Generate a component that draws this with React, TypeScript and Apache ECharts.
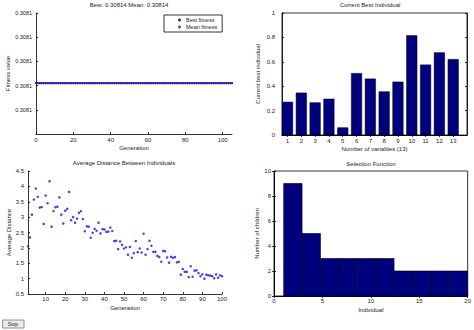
import React, { useEffect, useRef } from "react";
import * as echarts from "echarts";

// ---------- data ----------
// Top-left: best / mean fitness per generation (constant at 0.30814)
const FITNESS_GENERATIONS = Array.from({ length: 106 }, (_, i) => i);
const BEST_FITNESS_VALUE = 0.308141;
const MEAN_FITNESS_VALUE = 0.308141;
const FITNESS_X_TICKS = [0, 20, 40, 60, 80, 100];
const FITNESS_Y_TICKS = [0.30813, 0.30814, 0.30815, 0.30816, 0.30817];

// Top-right: current best individual
const VARIABLES = [1, 2, 3, 4, 5, 6, 7, 8, 9, 10, 11, 12, 13];
const BEST_INDIVIDUAL = [0.27, 0.345, 0.265, 0.295, 0.06, 0.505, 0.46, 0.355, 0.435, 0.815, 0.575, 0.675, 0.62];

// Bottom-left: average distance between individuals (generations 1..100)
const AVG_DISTANCE = [
  2.05, 2.34, 3.08, 3.57, 3.93, 3.66, 3.31, 3.33, 2.78, 3.70,
  3.45, 4.17, 2.69, 3.20, 3.32, 3.34, 3.64, 3.08, 2.79, 3.21,
  3.27, 3.82, 2.90, 3.00, 2.82, 2.95, 3.14, 3.19, 2.94, 2.54,
  2.70, 2.69, 2.33, 2.49, 2.62, 2.56, 2.82, 2.47, 2.61, 2.60,
  2.52, 2.53, 2.66, 2.55, 2.22, 2.23, 1.96, 2.21, 2.10, 1.98,
  2.02, 1.78, 2.03, 1.68, 1.83, 2.22, 1.86, 1.98, 1.85, 2.46,
  1.78, 1.96, 2.23, 2.07, 1.87, 1.87, 1.74, 1.70, 1.55, 1.90,
  1.89, 1.69, 1.52, 1.71, 1.68, 1.70, 1.53, 1.55, 1.13, 1.31,
  1.22, 1.22, 1.05, 1.40, 1.06, 1.26, 1.27, 1.18, 1.08, 1.14,
  1.00, 1.13, 1.11, 1.10, 1.08, 1.01, 1.14, 1.03, 1.11, 1.08,
];
const DISTANCE_X_TICKS = [10, 20, 30, 40, 50, 60, 70, 80, 90, 100];

// Bottom-right: selection function histogram
const HIST_EDGES = [1, 2.9, 4.8, 6.7, 8.6, 10.5, 12.4, 14.3, 16.2, 18.1, 20];
const CHILDREN = [9, 5, 3, 3, 3, 3, 2, 2, 2, 2];

// ---------- styles ----------
const FONT = "Liberation Sans, Arial, sans-serif";
const TEXT = "#222";
const NAVY = "#00007f";
const BLUE = "#1515e6";
const TICK_FS = 6;

const axisLineStyle = { show: true, lineStyle: { color: "#000", width: 0.8 } };
const tickStyle = (vals?: number[]) => ({
  show: true,
  inside: true,
  length: 2,
  lineStyle: { color: "#000", width: 0.8 },
  ...(vals ? { customValues: vals } : {}),
});
const labelStyle = (margin: number, extra: any = {}) => ({
  show: true,
  fontSize: TICK_FS,
  fontFamily: FONT,
  color: TEXT,
  margin,
  ...extra,
});
const nameStyle = { fontSize: 6, fontFamily: FONT, color: TEXT };

export default function App() {
  const ref = useRef<HTMLDivElement>(null);

  useEffect(() => {
    if (!ref.current) return;
    const chart = echarts.init(ref.current, undefined, { renderer: "svg" });

    const barHalf = 0.38;

    const option: any = {
      animation: false,
      backgroundColor: "#fff",
      textStyle: { fontFamily: FONT },
      grid: [
        { left: 36, top: 13, width: 196, height: 121 },
        { left: 282, top: 13, width: 185, height: 122, show: true, borderColor: "#000", borderWidth: 0.8 },
        { left: 28, top: 171, width: 194, height: 123 },
        { left: 274, top: 171, width: 195, height: 125, show: true, borderColor: "#000", borderWidth: 0.8 },
      ],
      xAxis: [
        {
          gridIndex: 0, type: "value", min: 0, max: 105, position: "bottom",
          axisLine: axisLineStyle, axisTick: tickStyle(FITNESS_X_TICKS),
          axisLabel: labelStyle(3, { customValues: FITNESS_X_TICKS }),
          splitLine: { show: false },
          name: "Generation", nameLocation: "middle", nameGap: 11, nameTextStyle: nameStyle,
        },
        {
          gridIndex: 1, type: "value", min: 0.6, max: 14, position: "bottom",
          axisLine: axisLineStyle, axisTick: tickStyle(VARIABLES),
          axisLabel: labelStyle(3, { customValues: VARIABLES }),
          splitLine: { show: false },
          name: "Number of variables (13)", nameLocation: "middle", nameGap: 11, nameTextStyle: nameStyle,
        },
        {
          gridIndex: 1, type: "value", min: 0.6, max: 14, position: "top",
          axisLine: axisLineStyle, axisTick: tickStyle(VARIABLES),
          axisLabel: { show: false }, splitLine: { show: false },
        },
        {
          gridIndex: 2, type: "value", min: 1, max: 100, position: "bottom",
          axisLine: axisLineStyle, axisTick: tickStyle(DISTANCE_X_TICKS),
          axisLabel: labelStyle(2, { customValues: DISTANCE_X_TICKS }),
          splitLine: { show: false },
          name: "Generation", nameLocation: "middle", nameGap: 11, nameTextStyle: nameStyle,
        },
        {
          gridIndex: 3, type: "value", min: 0, max: 20, interval: 5, position: "bottom",
          axisLine: axisLineStyle, axisTick: tickStyle(),
          axisLabel: labelStyle(2), splitLine: { show: false },
          name: "Individual", nameLocation: "middle", nameGap: 11, nameTextStyle: nameStyle,
        },
        {
          gridIndex: 3, type: "value", min: 0, max: 20, interval: 5, position: "top",
          axisLine: axisLineStyle, axisTick: tickStyle(),
          axisLabel: { show: false }, splitLine: { show: false },
        },
      ],
      yAxis: [
        {
          gridIndex: 0, type: "value", min: 0.30812, max: 0.30817, position: "left",
          axisLine: axisLineStyle, axisTick: tickStyle(FITNESS_Y_TICKS),
          axisLabel: labelStyle(4, {
            customValues: FITNESS_Y_TICKS,
            fontSize: 5.5,
            formatter: (v: number) => (Math.floor(v * 10000 + 1e-6) / 10000).toFixed(4),
          }),
          splitLine: { show: false },
          name: "Fitness value", nameLocation: "middle", nameGap: 25, nameRotate: 90, nameTextStyle: nameStyle,
        },
        {
          gridIndex: 1, type: "value", min: 0, max: 1, interval: 0.2, position: "left",
          axisLine: axisLineStyle, axisTick: tickStyle(),
          axisLabel: labelStyle(7), splitLine: { show: false },
          name: "Current best individual", nameLocation: "middle", nameGap: 21, nameRotate: 90, nameTextStyle: nameStyle,
        },
        {
          gridIndex: 1, type: "value", min: 0, max: 1, interval: 0.2, position: "right",
          axisLine: axisLineStyle, axisTick: tickStyle(),
          axisLabel: { show: false }, splitLine: { show: false },
        },
        {
          gridIndex: 2, type: "value", min: 0.5, max: 4.5, interval: 0.5, position: "left",
          axisLine: axisLineStyle, axisTick: tickStyle(),
          axisLabel: labelStyle(4), splitLine: { show: false },
          name: "Average Distance", nameLocation: "middle", nameGap: 14, nameRotate: 90, nameTextStyle: nameStyle,
        },
        {
          gridIndex: 3, type: "value", min: 0, max: 10, interval: 2, position: "left",
          axisLine: axisLineStyle, axisTick: tickStyle(),
          axisLabel: labelStyle(3), splitLine: { show: false },
          name: "Number of children", nameLocation: "middle", nameGap: 10, nameRotate: 90, nameTextStyle: nameStyle,
        },
        {
          gridIndex: 3, type: "value", min: 0, max: 10, interval: 2, position: "right",
          axisLine: axisLineStyle, axisTick: tickStyle(),
          axisLabel: { show: false }, splitLine: { show: false },
        },
      ],
      legend: {
        data: ["Best fitness", "Mean fitness"],
        left: 164,
        top: 15,
        orient: "vertical",
        backgroundColor: "#fff",
        borderColor: "#000",
        borderWidth: 0.8,
        borderRadius: 0,
        padding: [2, 5, 2, 14],
        itemGap: 1,
        itemWidth: 3,
        itemHeight: 3,
        icon: "circle",
        textStyle: { fontSize: 5.5, fontFamily: FONT, color: TEXT },
      },
      series: [
        {
          name: "Best fitness",
          type: "scatter",
          xAxisIndex: 0, yAxisIndex: 0,
          symbol: "circle", symbolSize: 2,
          itemStyle: { color: "#000" },
          data: FITNESS_GENERATIONS.map((g) => [g, BEST_FITNESS_VALUE]),
        },
        {
          name: "Mean fitness",
          type: "scatter",
          xAxisIndex: 0, yAxisIndex: 0,
          symbol: "circle", symbolSize: 2,
          itemStyle: { color: BLUE },
          data: FITNESS_GENERATIONS.map((g) => [g, MEAN_FITNESS_VALUE]),
        },
        {
          name: "Current best",
          type: "custom",
          xAxisIndex: 1, yAxisIndex: 1,
          encode: { x: 0, y: 1 },
          data: VARIABLES.map((v, i) => [v, BEST_INDIVIDUAL[i]]),
          renderItem: (_p: any, api: any) => {
            const x = api.value(0);
            const v = api.value(1);
            const a = api.coord([x - barHalf, v]);
            const b = api.coord([x + barHalf, 0]);
            return {
              type: "rect",
              shape: { x: a[0], y: a[1], width: b[0] - a[0], height: b[1] - a[1] },
              style: { fill: NAVY, stroke: "#000", lineWidth: 0.5 },
            };
          },
        },
        {
          name: "Average distance",
          type: "scatter",
          xAxisIndex: 3, yAxisIndex: 3,
          symbol: "circle", symbolSize: 2.5,
          itemStyle: { color: BLUE },
          data: AVG_DISTANCE.map((d, i) => [i + 1, d]),
        },
        {
          name: "Selection",
          type: "custom",
          xAxisIndex: 4, yAxisIndex: 4,
          encode: { x: [0, 1], y: 2 },
          data: CHILDREN.map((c, i) => [HIST_EDGES[i], HIST_EDGES[i + 1], c]),
          renderItem: (_p: any, api: any) => {
            const a = api.coord([api.value(0), api.value(2)]);
            const b = api.coord([api.value(1), 0]);
            return {
              type: "rect",
              shape: { x: a[0], y: a[1], width: b[0] - a[0], height: b[1] - a[1] },
              style: { fill: NAVY, stroke: "#000", lineWidth: 0.6 },
            };
          },
        },
      ],
      graphic: [
        { type: "text", x: 129, y: 5, style: { text: "Best: 0.30814 Mean: 0.30814", fontSize: 6, fontFamily: FONT, fill: TEXT, align: "center", verticalAlign: "middle" } },
        { type: "text", x: 370, y: 5, style: { text: "Current Best Individual", fontSize: 6, fontFamily: FONT, fill: TEXT, align: "center", verticalAlign: "middle" } },
        { type: "text", x: 124, y: 163, style: { text: "Average Distance Between Individuals", fontSize: 6, fontFamily: FONT, fill: TEXT, align: "center", verticalAlign: "middle" } },
        { type: "text", x: 371, y: 164, style: { text: "Selection Function", fontSize: 6, fontFamily: FONT, fill: TEXT, align: "center", verticalAlign: "middle" } },
        { type: "rect", shape: { x: 2.5, y: 320, width: 21.5, height: 8 }, style: { fill: "#ececec", stroke: "#7a7a7a", lineWidth: 0.8 } },
        { type: "text", x: 13, y: 324, style: { text: "Stop", fontSize: 5, fontFamily: FONT, fill: TEXT, align: "center", verticalAlign: "middle" } },
      ],
    };

    chart.setOption(option);
    return () => chart.dispose();
  }, []);

  return (
    <div
      ref={ref}
      style={{ position: "absolute", left: 0, top: 0, width: 474, height: 330, background: "#fff" }}
    />
  );
}
